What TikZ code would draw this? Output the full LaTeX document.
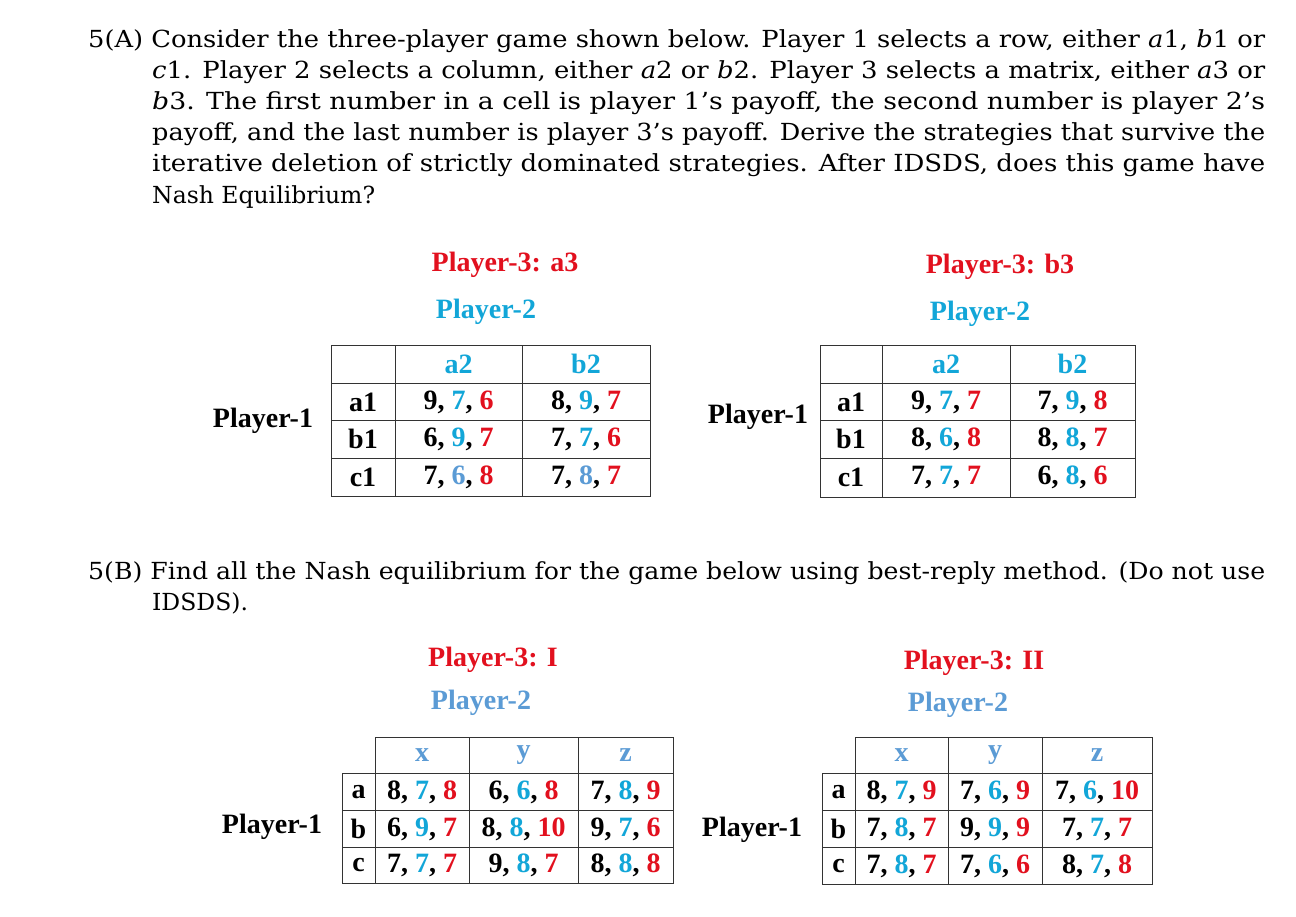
\documentclass[tikz,border=0pt]{standalone}
\usepackage{fontspec}
\usepackage{graphicx}
\setmainfont{DejaVu Serif}
\newfontfamily\tabfont{Liberation Serif}
\definecolor{pr}{HTML}{E2101E}
\definecolor{pc}{HTML}{12A6D8}
\definecolor{ps}{HTML}{5B9BD5}
\newcommand{\tc}[3]{#1, \textcolor{pc}{#2}, \textcolor{pr}{#3}}
\newcommand{\ts}[3]{#1, \textcolor{ps}{#2}, \textcolor{pr}{#3}}
\newcommand{\fl}[2]{\resizebox{#1pt}{\height}{#2}}
\begin{document}
\begin{tikzpicture}[x=1pt,y=-1pt,
  body/.style={anchor=base west,inner sep=0pt,font=\fontsize{23.5}{28}\selectfont},
  tb/.style={inner sep=0pt,font=\tabfont\bfseries\fontsize{28}{32}\selectfont},
  grid/.style={draw=black!80,line width=0.9pt}]
\useasboundingbox[fill=white] (0,0) rectangle (1296,916);
% text 5(A)
\node[body] (t1) at (88,47) {\fl{1177}{5(A) Consider the three-player game shown below. Player 1 selects a row, either \textit{a}1, \textit{b}1 or}};
\node[body] (t2) at (152,78) {\fl{1113}{\textit{c}1. Player 2 selects a column, either \textit{a}2 or \textit{b}2. Player 3 selects a matrix, either \textit{a}3 or}};
\node[body] (t3) at (152,109) {\fl{1113}{\textit{b}3. The first number in a cell is player 1’s payoff, the second number is player 2’s}};
\node[body] (t4) at (152,140) {\fl{1113}{payoff, and the last number is player 3’s payoff. Derive the strategies that survive the}};
\node[body] (t5) at (152,171) {\fl{1113}{iterative deletion of strictly dominated strategies. After IDSDS, does this game have}};
\node[body] (t6) at (152,203) {Nash Equilibrium?};
% text 5(B)
\node[body] (u1) at (88,579) {\fl{1177}{5(B) Find all the Nash equilibrium for the game below using best-reply method. (Do not use}};
\node[body] (u2) at (152,610) {IDSDS).};

% ---------- Table a3
\node[tb,text=pr] (a3t) at (505,265) {Player-3: a3};
\node[tb,text=pc] (a3p2) at (486,312) {Player-2};
\node[tb] (a3p1) at (263,421) {Player-1};
\draw[grid] (331,345) rectangle (650,496);
\foreach \y in {383,420,458} \draw[grid] (331,\y) -- (650,\y);
\foreach \x in {395,522} \draw[grid] (\x,345) -- (\x,496);
\node[tb,text=pc] (a3h1) at (458.5,364) {a2};
\node[tb,text=pc] (a3h2) at (586,364) {b2};
\node[tb] (a3r1) at (363,402) {a1};
\node[tb] (a3r2) at (363,439) {b1};
\node[tb] (a3r3) at (363,477) {c1};
\node[tb] (a3c11) at (458.5,402) {\tc976};
\node[tb] (a3c12) at (586,402) {\tc897};
\node[tb] (a3c21) at (458.5,439) {\tc697};
\node[tb] (a3c22) at (586,439) {\tc776};
\node[tb] (a3c31) at (458.5,477) {\ts768};
\node[tb] (a3c32) at (586,477) {\ts787};

% ---------- Table b3
\node[tb,text=pr] (b3t) at (1000,267) {Player-3: b3};
\node[tb,text=pc] (b3p2) at (980,314) {Player-2};
\node[tb] (b3p1) at (758,417) {Player-1};
\draw[grid] (820,345) rectangle (1135,497);
\foreach \y in {383,420,458} \draw[grid] (820,\y) -- (1135,\y);
\foreach \x in {882,1010} \draw[grid] (\x,345) -- (\x,497);
\node[tb,text=pc] (b3h1) at (946,364) {a2};
\node[tb,text=pc] (b3h2) at (1072.5,364) {b2};
\node[tb] (b3r1) at (851,402) {a1};
\node[tb] (b3r2) at (851,439) {b1};
\node[tb] (b3r3) at (851,477) {c1};
\node[tb] (b3c11) at (946,402) {\tc977};
\node[tb] (b3c12) at (1072.5,402) {\tc798};
\node[tb] (b3c21) at (946,439) {\tc868};
\node[tb] (b3c22) at (1072.5,439) {\tc887};
\node[tb] (b3c31) at (946,477) {\tc777};
\node[tb] (b3c32) at (1072.5,477) {\tc686};

% ---------- Table I
\node[tb,text=pr] (it) at (493,660) {Player-3: I};
\node[tb,text=ps] (ip2) at (481,703) {Player-2};
\node[tb] (ip1) at (272,827) {Player-1};
\draw[grid] (375,737) -- (673,737);
\draw[grid] (342,773) rectangle (673,883);
\foreach \y in {810,847} \draw[grid] (342,\y) -- (673,\y);
\foreach \x in {375,469,578,673} \draw[grid] (\x,737) -- (\x,883);
\node[tb,text=ps] (ih1) at (422,755) {x};
\node[tb,text=ps] (ih2) at (523.5,755) {y};
\node[tb,text=ps] (ih3) at (625.5,755) {z};
\node[tb] (ir1) at (358.5,792) {a};
\node[tb] (ir2) at (358.5,829) {b};
\node[tb] (ir3) at (358.5,865) {c};
\node[tb] (ic11) at (422,792) {\tc878};
\node[tb] (ic12) at (523.5,792) {\tc668};
\node[tb] (ic13) at (625.5,792) {\tc789};
\node[tb] (ic21) at (422,829) {\tc697};
\node[tb] (ic22) at (523.5,829) {\tc88{10}};
\node[tb] (ic23) at (625.5,829) {\tc976};
\node[tb] (ic31) at (422,865) {\tc777};
\node[tb] (ic32) at (523.5,865) {\tc987};
\node[tb] (ic33) at (625.5,865) {\tc888};

% ---------- Table II
\node[tb,text=pr] (jt) at (974,663) {Player-3: II};
\node[tb,text=ps] (jp2) at (958,705) {Player-2};
\node[tb] (jp1) at (752,830) {Player-1};
\draw[grid] (855,737) -- (1152,737);
\draw[grid] (822,773) rectangle (1152,884);
\foreach \y in {810,847} \draw[grid] (822,\y) -- (1152,\y);
\foreach \x in {855,948,1042,1152} \draw[grid] (\x,737) -- (\x,884);
\node[tb,text=ps] (jh1) at (901.5,755) {x};
\node[tb,text=ps] (jh2) at (995,755) {y};
\node[tb,text=ps] (jh3) at (1097,755) {z};
\node[tb] (jr1) at (838.5,792) {a};
\node[tb] (jr2) at (838.5,829) {b};
\node[tb] (jr3) at (838.5,866) {c};
\node[tb] (jc11) at (901.5,792) {\tc879};
\node[tb] (jc12) at (995,792) {\tc769};
\node[tb] (jc13) at (1097,792) {\tc76{10}};
\node[tb] (jc21) at (901.5,829) {\tc787};
\node[tb] (jc22) at (995,829) {\tc999};
\node[tb] (jc23) at (1097,829) {\tc777};
\node[tb] (jc31) at (901.5,866) {\tc787};
\node[tb] (jc32) at (995,866) {\tc766};
\node[tb] (jc33) at (1097,866) {\tc878};
\end{tikzpicture}
\end{document}
